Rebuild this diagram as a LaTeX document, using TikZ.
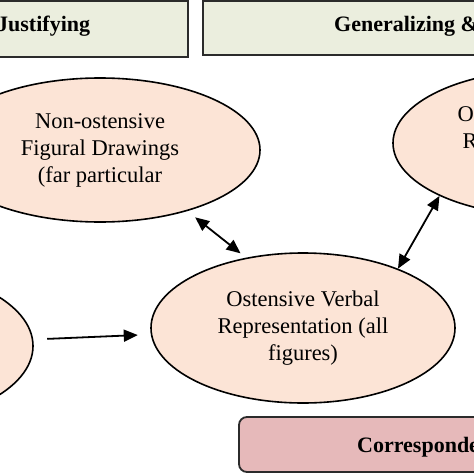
\documentclass[tikz,border=0pt]{standalone}
\usepackage{fontspec}
\setmainfont{Liberation Serif}
\usetikzlibrary{shapes.geometric,arrows.meta}
\definecolor{peach}{HTML}{FCE4D6}
\definecolor{olivebox}{HTML}{EBEEDE}
\definecolor{pinkbox}{HTML}{E6B9BA}
\definecolor{boxline}{HTML}{2B2B2B}
\tikzset{
  oval/.style={ellipse, draw=black, line width=1.6pt, fill=peach, inner sep=0pt,
    align=center, font=\fontsize{22.5}{27}\selectfont},
  headbox/.style={draw=boxline, line width=1.8pt, fill=olivebox},
  corrbox/.style={draw=boxline, line width=1.8pt, fill=pinkbox, rounded corners=8pt},
  headtext/.style={font=\fontsize{22}{26}\selectfont\bfseries, inner sep=0pt, anchor=base west},
  link/.style={line width=1.8pt, -{Triangle[length=14pt,width=12pt]}},
  dlink/.style={line width=1.8pt, {Triangle[length=14pt,width=12pt]}-{Triangle[length=14pt,width=12pt]}}
}
\begin{document}
\begin{tikzpicture}[x=1pt,y=-1pt]
\useasboundingbox (0,0) rectangle (474,474);
% header boxes
\draw[headbox] (-10,1) rectangle (188,57);
\draw[headbox] (203,1) rectangle (490,55);
\node[headtext] (hjust) at (-3,31) {Justifying};
\node[headtext] (hgen) at (334,31) {Generalizing \&};
% ellipses
\node[oval, minimum width=320pt, minimum height=144pt] (e1) at (100,150)
  {Non-ostensive\\Figural Drawings\\(far particular};
\node[oval, minimum width=310pt, minimum height=146pt] (e2) at (548,143)
  {Ostensive Symbolic\\Representation (all\\figures)};
\node[oval, minimum width=306pt, minimum height=156pt] (e3) at (-120,346) {};
\node[oval, minimum width=304pt, minimum height=150pt] (e4) at (303,328)
  {Ostensive Verbal\\Representation (all\\figures)};
% bottom box
\draw[corrbox] (239,417) rectangle (500,472);
\node[headtext] (hcorr) at (357,452) {Correspondence};
% connectors
\draw[dlink, shorten <=10pt, shorten >=7pt] (e1.-35) -- (e4.129);
\draw[dlink] (e2.206) -- (e4.32);
\draw[link, shorten <=14pt, shorten >=13pt] (e3) -- (e4);
\end{tikzpicture}
\end{document}
